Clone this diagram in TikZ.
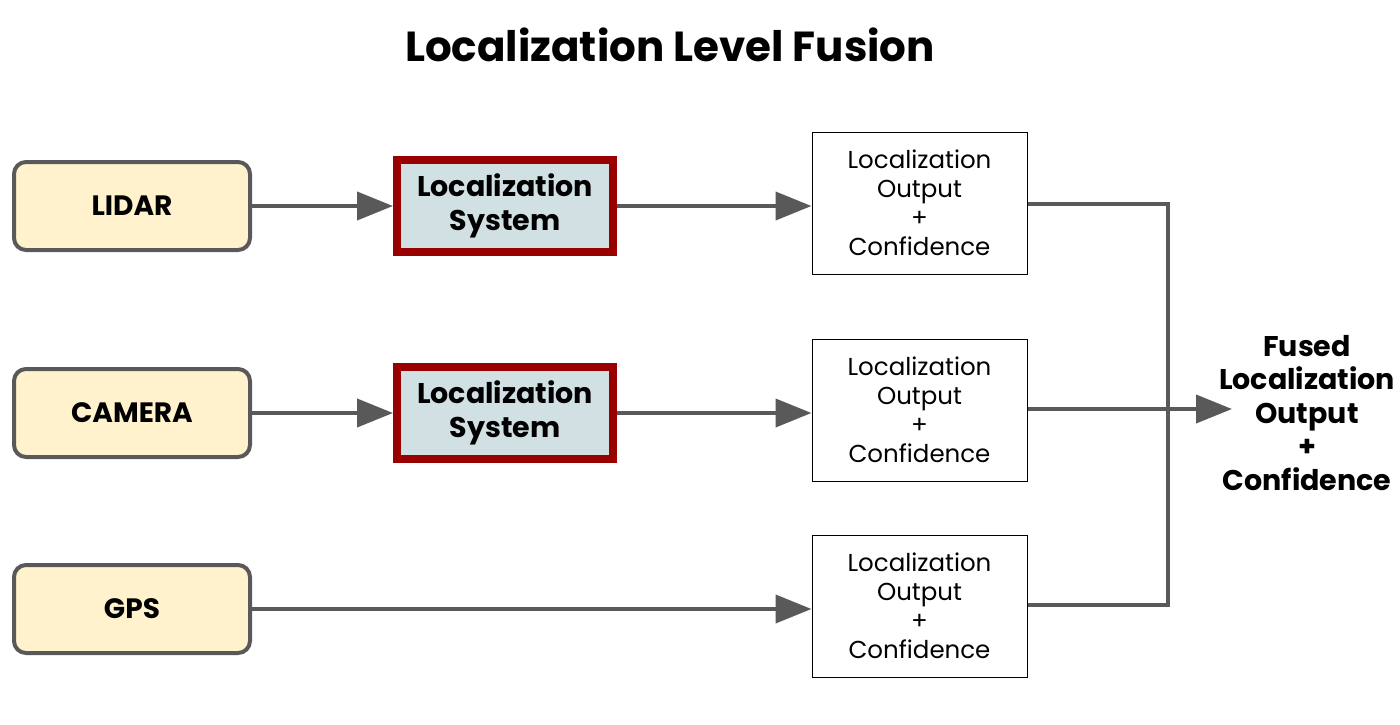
\documentclass[tikz,border=0pt]{standalone}
\usepackage{fontspec}
\setmainfont{Poppins}
\usetikzlibrary{arrows.meta}
\definecolor{sens}{HTML}{FFF2CC}
\definecolor{sysf}{HTML}{D0E0E3}
\definecolor{sysb}{HTML}{990000}
\definecolor{lgray}{HTML}{595959}
\begin{document}
\begin{tikzpicture}[x=1pt,y=-1pt,
 sensor/.style={draw=lgray,line width=4pt,fill=sens,rounded corners=12pt,minimum width=236pt,minimum height=88pt,font=\fontsize{28}{30}\selectfont\bfseries},
 sys/.style={draw=sysb,line width=8pt,fill=sysf,minimum width=216pt,minimum height=92pt,align=center,font=\fontsize{28.5}{34}\selectfont\bfseries},
 outbox/.style={draw=black,line width=1pt,fill=white,minimum width=215pt,minimum height=142pt,align=center,font=\fontsize{24.5}{29}\selectfont},
 arr/.style={draw=lgray,line width=4pt,-{Triangle[length=36pt,width=28pt]}},
 lnst/.style={draw=lgray,line width=4pt}]
\useasboundingbox (0,0) rectangle (1400,725);
\node[font=\fontsize{42}{46}\selectfont\bfseries] (title) at (670,45) {Localization Level Fusion};
\node[sensor] (lidar) at (132,206) {LIDAR};
\node[sensor] (cam) at (132,413) {CAMERA};
\node[sensor] (gps) at (132,609) {GPS};
\node[sys] (s1) at (505,206) {Localization\\System};
\node[sys] (s2) at (505,413) {Localization\\System};
\node[outbox] (o1) at (919.5,203) {Localization\\Output\\+\\Confidence};
\node[outbox] (o2) at (919.5,410) {Localization\\Output\\+\\Confidence};
\node[outbox] (o3) at (919.5,606) {Localization\\Output\\+\\Confidence};
\node[align=center,font=\fontsize{28.5}{33.5}\selectfont\bfseries] (fused) at (1307,413) {Fused\\Localization\\Output\\+\\Confidence};
\coordinate (j1) at (1168,204);
\coordinate (j3) at (1168,605);
\coordinate (tip) at (1232,409);
\draw[arr] (lidar.east) -- (s1.west);
\draw[arr] (cam.east) -- (s2.west);
\draw[arr] (s1.east) -- (o1.west |- s1.east);
\draw[arr] (s2.east) -- (o2.west |- s2.east);
\draw[arr] (gps.east) -- (o3.west |- gps.east);
\draw[lnst] (o1.east |- j1) -- (j1) -- (j3) -- (o3.east |- j3);
\draw[arr] (o2.east |- tip) -- (tip);
\end{tikzpicture}
\end{document}
